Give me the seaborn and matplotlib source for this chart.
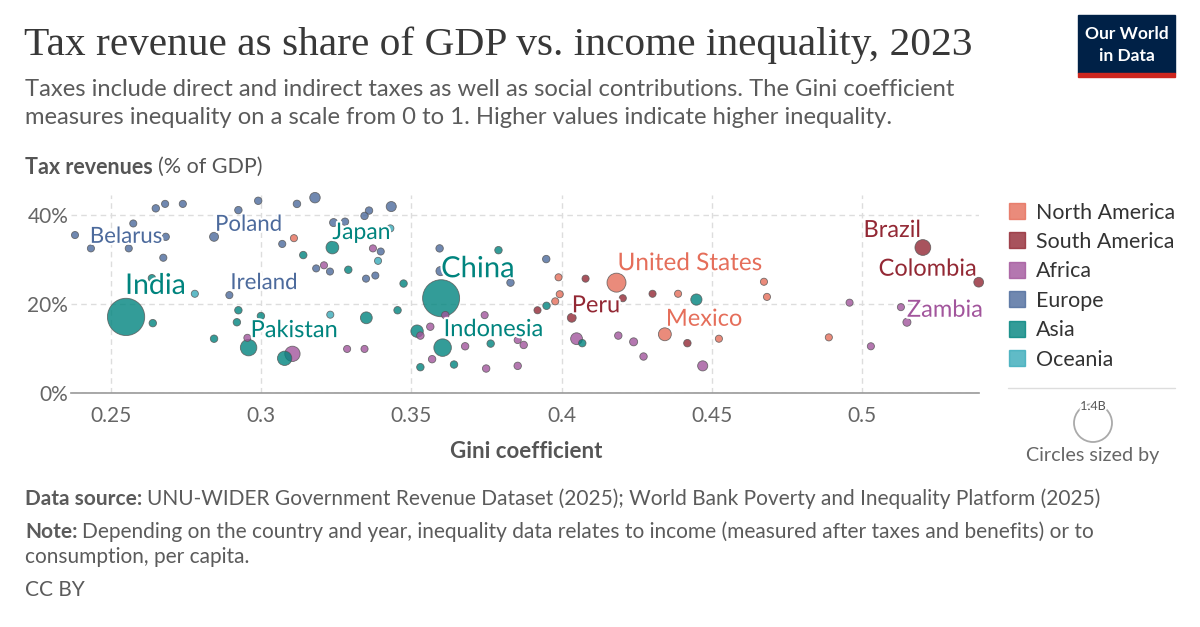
import matplotlib
matplotlib.use("Agg")
import matplotlib.pyplot as plt
import pandas as pd
import seaborn as sns
from matplotlib import patheffects
from matplotlib.lines import Line2D
from matplotlib.patches import Ellipse, Rectangle

# ---- data ----
gini = [
    # Europe
    0.238, 0.2433, 0.2559, 0.2574, 0.2649, 0.268, 0.2739, 0.2682, 0.2674, 0.2843,
    0.2924, 0.299, 0.2894, 0.307, 0.3119, 0.3179, 0.3183, 0.3229, 0.3241, 0.3279,
    0.3433, 0.3359, 0.3344, 0.3398, 0.3349, 0.338, 0.3594, 0.3597, 0.383, 0.3949,
    # Asia
    0.2636, 0.255, 0.2639, 0.2843, 0.2924, 0.2919, 0.2999, 0.2958, 0.314, 0.3078,
    0.3237, 0.329, 0.3474, 0.3454, 0.335, 0.3599, 0.3519, 0.3604, 0.353, 0.3642,
    0.3764, 0.379, 0.395, 0.4069, 0.4449,
    # Oceania
    0.2779, 0.323, 0.3389, 0.343,
    # North America
    0.3109, 0.399, 0.3994, 0.3979, 0.4183, 0.4388, 0.4674, 0.4684, 0.4344, 0.4524, 0.489,
    # South America
    0.392, 0.4034, 0.408, 0.4204, 0.4303, 0.4419, 0.5203, 0.5389,
    # Africa
    0.2954, 0.3104, 0.3209, 0.3286, 0.3372, 0.3344, 0.3613, 0.3563, 0.353, 0.3569,
    0.3744, 0.3679, 0.3749, 0.3854, 0.3874, 0.3854, 0.405, 0.4189, 0.424, 0.4273,
    0.447, 0.4959, 0.503, 0.513, 0.515,
]
tax = [
    35.5, 32.5, 32.5, 38.1, 41.5, 42.5, 42.5, 35.1, 30.4, 35.1,
    41.1, 43.2, 22.0, 33.5, 42.5, 43.9, 28.0, 27.3, 38.3, 38.5,
    41.9, 41.0, 39.8, 31.8, 25.7, 26.4, 32.5, 27.4, 24.8, 30.1,
    25.8, 17.1, 15.7, 12.2, 18.6, 15.9, 17.3, 10.2, 31.0, 7.8,
    32.7, 27.7, 24.6, 18.6, 16.9, 21.3, 13.9, 10.2, 5.8, 6.4,
    11.1, 32.1, 19.6, 11.2, 21.0,
    22.3, 17.6, 29.7, 37.0,
    34.8, 26.0, 22.2, 20.6, 24.8, 22.3, 25.0, 21.6, 13.2, 12.2, 12.5,
    18.6, 16.9, 25.7, 21.3, 22.3, 11.2, 32.7, 24.9,
    12.4, 8.8, 28.7, 9.9, 32.5, 9.9, 17.5, 14.9, 12.9, 7.6,
    17.5, 10.5, 5.5, 11.9, 10.8, 6.1, 12.2, 12.9, 11.5, 8.2,
    6.1, 20.3, 10.5, 19.3, 15.9,
]
region = (
    ["Europe"] * 30 + ["Asia"] * 25 + ["Oceania"] * 4
    + ["North America"] * 11 + ["South America"] * 8 + ["Africa"] * 25
)
population = [
    5, 5, 5, 5, 10, 6, 6, 9, 6, 37,
    10, 10, 5, 6, 11, 68, 5, 5, 20, 10,
    59, 10, 10, 5, 5, 5, 10, 40, 10, 10,
    10, 1430, 10, 10, 10, 10, 10, 240, 10, 170,
    124, 10, 10, 10, 100, 1410, 115, 278, 10, 10,
    10, 10, 10, 10, 85,
    5, 5, 5, 5,
    5, 5, 5, 5, 335, 5, 5, 5, 129, 5, 5,
    5, 34, 5, 5, 5, 10, 216, 52,
    5, 200, 5, 5, 5, 5, 10, 10, 10, 10,
    5, 10, 10, 5, 10, 10, 100, 10, 20, 10,
    60, 5, 5, 5, 20,
]
label = [""] * len(gini)
label[7] = "Belarus"
label[9] = "Poland"
label[12] = "Ireland"
label[31] = "India"
label[37] = "Pakistan"
label[40] = "Japan"
label[45] = "China"
label[47] = "Indonesia"
label[63] = "United States"
label[67] = "Mexico"
label[71] = "Peru"
label[76] = "Brazil"
label[77] = "Colombia"
label[102] = "Zambia"

regions = ["North America", "South America", "Africa", "Europe", "Asia", "Oceania"]
colors = ["#E56E5A", "#932834", "#A2559C", "#4C6A9C", "#00847E", "#38AABA"]
palette = dict(zip(regions, colors))

# label placement: (dx, dy) in pixels from the point, alignment, font size
label_style = {
    "India": (-1, 31, "left", 20.5),
    "China": (0, 29, "left", 21),
    "United States": (1, 19, "left", 17.5),
    "Brazil": (-2, 17, "right", 17),
    "Colombia": (-2, 13, "right", 17),
    "Zambia": (0, 12, "left", 17),
    "Mexico": (1, 15, "left", 17),
    "Peru": (0, 12, "left", 17),
    "Indonesia": (1, 18, "left", 17),
    "Pakistan": (2, 17, "left", 17),
    "Ireland": (1, 12, "left", 16),
    "Poland": (1, 12, "left", 16),
    "Japan": (0, 15, "left", 16.5),
    "Belarus": (-3, 0, "right", 16),
}

W, H = 1200, 627


def fx(x):
    return x / W


def fy(y):
    return 1 - y / H


sns.set_theme(style="white")
plt.rcParams["font.family"] = ["Lato", "DejaVu Sans"]

df = pd.DataFrame({"gini": gini, "tax": tax, "region": region,
                   "population": population, "label": label})
df = df.sort_values("population", ascending=False)

fig = plt.figure(figsize=(12, 6.27), dpi=100)
ax = fig.add_axes([fx(71), fy(393), fx(979) - fx(71), fy(195) - fy(393)])

sns.scatterplot(
    data=df, x="gini", y="tax", hue="region", size="population",
    palette=palette, sizes=(24, 720), size_norm=(0, 1430),
    alpha=0.8, edgecolor="#555555", linewidth=0.6, legend=False, ax=ax, zorder=3,
)
for coll in ax.collections:
    coll.set_clip_on(False)

ax.set_xlim(0.25 - 40 / 3000, 0.539)
ax.set_ylim(0, 44.5)
ax.set_xticks([0.25, 0.3, 0.35, 0.4, 0.45, 0.5])
ax.set_xticklabels(["0.25", "0.3", "0.35", "0.4", "0.45", "0.5"])
ax.set_yticks([0, 20, 40])
ax.set_yticklabels(["0%", "20%", "40%"])
ax.tick_params(axis="both", length=0, labelsize=15, labelcolor="#666666")
ax.tick_params(axis="x", pad=9)
ax.tick_params(axis="y", pad=2)
ax.grid(True, color="#dddddd", linestyle=(0, (4, 3)), linewidth=1)
for s in ["top", "right", "left"]:
    ax.spines[s].set_visible(False)
ax.spines["bottom"].set_color("#999999")
ax.spines["bottom"].set_linewidth(1.2)
ax.set_xlabel("")
ax.set_ylabel("")

halo = [patheffects.withStroke(linewidth=3, foreground="white")]
for _, row in df[df["label"] != ""].iterrows():
    dx, dy, ha, fs = label_style[row["label"]]
    ax.annotate(
        row["label"], (row["gini"], row["tax"]), xytext=(dx, dy),
        textcoords="offset pixels", ha=ha, va="center", fontsize=fs,
        color=palette[row["region"]], path_effects=halo, zorder=5,
    )

# axis titles
fig.text(0.5 * (fx(74) + fx(979)), fy(451), "Gini coefficient", ha="center", va="center",
         fontsize=16, fontweight="bold", color="#555555")

renderer = fig.canvas.get_renderer()


def bold_then_regular(x, y, bold, rest, size, color):
    t = fig.text(fx(x), fy(y), bold, fontsize=size, fontweight="bold", color=color,
                 va="center", ha="left")
    bb = t.get_window_extent(renderer)
    fig.text(bb.x1 / W + fx(5), fy(y), rest, fontsize=size, color=color,
             va="center", ha="left")


bold_then_regular(25, 167, "Tax revenues", "(% of GDP)", 15.5, "#555555")

# title + subtitle
fig.text(fx(24), fy(45), "Tax revenue as share of GDP vs. income inequality, 2023",
         fontsize=29.8, family=["Liberation Serif", "DejaVu Serif"], color="#383838",
         va="center", ha="left")
fig.text(fx(25), fy(89), "Taxes include direct and indirect taxes as well as social contributions. "
         "The Gini coefficient", fontsize=17.1, color="#5b5b5b", va="center", ha="left")
fig.text(fx(25), fy(118), "measures inequality on a scale from 0 to 1. Higher values indicate "
         "higher inequality.", fontsize=17.1, color="#5b5b5b", va="center", ha="left")

# footer
bold_then_regular(25, 499, "Data source:", "UNU-WIDER Government Revenue Dataset (2025); "
                  "World Bank Poverty and Inequality Platform (2025)", 15, "#5b5b5b")
bold_then_regular(25, 532, "Note:", "Depending on the country and year, inequality data "
                  "relates to income (measured after taxes and benefits) or to", 15, "#5b5b5b")
fig.text(fx(25), fy(557), "consumption, per capita.", fontsize=15, color="#5b5b5b",
         va="center", ha="left")
fig.text(fx(25), fy(590), "CC BY", fontsize=15, color="#5b5b5b", va="center", ha="left")

# logo
fig.add_artist(Rectangle((fx(1078), fy(73)), fx(97), fy(15) - fy(73),
                         transform=fig.transFigure, color="#002147", zorder=1))
fig.add_artist(Rectangle((fx(1078), fy(77)), fx(97), fy(73) - fy(77),
                         transform=fig.transFigure, color="#CE261E", zorder=1))
fig.text(fx(1126.5), fy(34), "Our World", fontsize=12.5, fontweight="bold", color="white",
         ha="center", va="center", zorder=2)
fig.text(fx(1126.5), fy(56), "in Data", fontsize=12.5, fontweight="bold", color="white",
         ha="center", va="center", zorder=2)

# colour legend
handles = [Line2D([], [], marker="s", linestyle="", markersize=11,
                  markerfacecolor=c, markeredgecolor=c, alpha=0.8) for c in colors]
fig.legend(handles, regions, loc="upper left", bbox_to_anchor=(fx(1000), fy(194)),
           frameon=False, fontsize=15.4, labelcolor="#333333", handlelength=0.8,
           handletextpad=0.5, labelspacing=0.44, borderaxespad=0)

# size legend
fig.add_artist(Line2D([fx(1008), fx(1175)], [fy(388), fy(388)], color="#dddddd",
                      linewidth=1, transform=fig.transFigure))
fig.add_artist(Ellipse((fx(1093), fy(423)), fx(38), 38 / H, transform=fig.transFigure,
                       fill=False, edgecolor="#aaaaaa", linewidth=1.3))
fig.text(fx(1093), fy(406), "1.4B", fontsize=9, color="#555555", ha="center", va="center",
         path_effects=halo)
fig.text(fx(1093), fy(455), "Circles sized by", fontsize=14.2, color="#666666",
         ha="center", va="center")

fig.savefig("out.png", dpi=100)
